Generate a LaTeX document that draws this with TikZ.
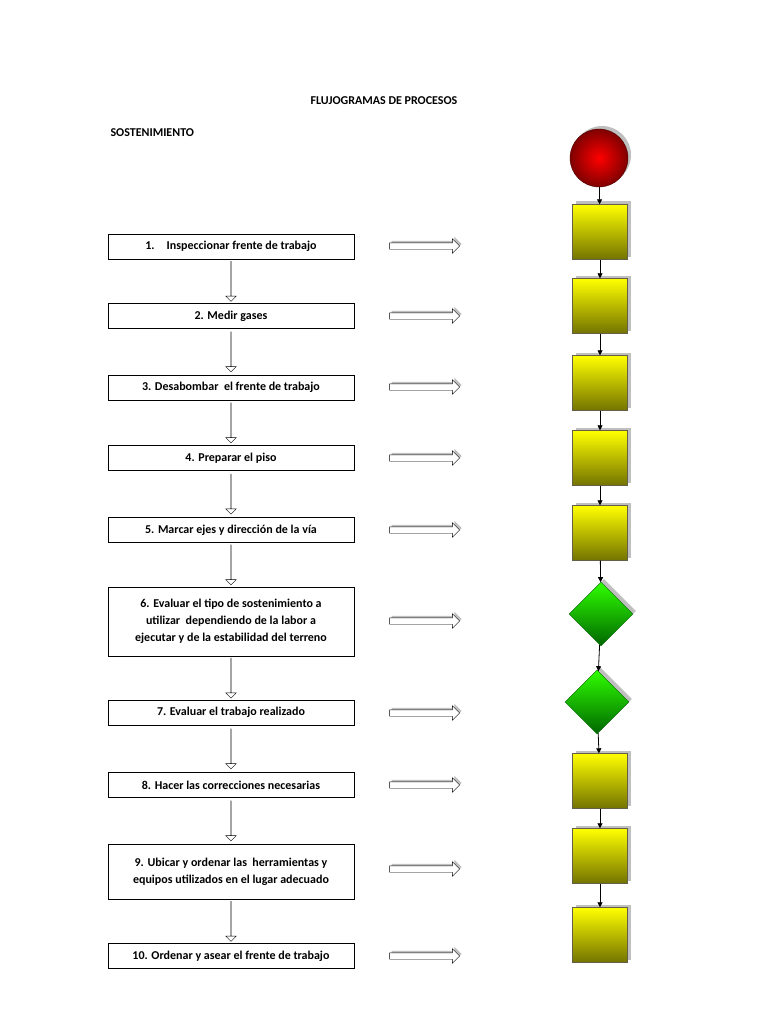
\documentclass[tikz,border=0pt]{standalone}
\usepackage{fontspec}
\setmainfont{Carlito}
\usetikzlibrary{shapes.arrows,shapes.geometric,shadows,arrows.meta,calc}
\begin{document}
\begin{tikzpicture}[x=1pt,y=-1pt,
  stepbox/.style={draw,thick,fill=white,minimum width=246,align=center,font=\fontsize{12}{17}\selectfont\bfseries,inner sep=0},
  darr/.style={single arrow,draw,fill=white,shape border rotate=270,minimum height=40,inner sep=0,inner ysep=7,single arrow head extend=5,text width=0pt},
  rarr/.style={single arrow,draw,fill=white,minimum height=70,inner xsep=0,inner ysep=3,single arrow head extend=4,text width=0pt,drop shadow={shadow xshift=2,shadow yshift=-2,opacity=.5}},
  ysq/.style={rectangle,draw=black!70!yellow,top color=yellow,bottom color=yellow!45!black,minimum size=55,drop shadow={shadow xshift=3,shadow yshift=-3,opacity=.5}},
  gdm/.style={diamond,draw=black!60!green,top color=green!75!lime,bottom color=green!40!black,minimum size=64,inner sep=0,drop shadow={shadow xshift=3,shadow yshift=-3,opacity=.5}},
  con/.style={-{Triangle[length=5,width=5]},thick}]
\useasboundingbox (0,0) rectangle (768,1024);
\node[font=\fontsize{12}{14}\selectfont\bfseries] (title) at (384,101) {FLUJOGRAMAS DE PROCESOS};
\node[font=\fontsize{12}{14}\selectfont\bfseries,anchor=west] (sub) at (107,133) {SOSTENIMIENTO};
\node[stepbox,minimum height=25] (s1) at (231,246.5) {1.\quad Inspeccionar frente de trabajo};
\node[stepbox,minimum height=25] (s2) at (231,316) {2. Medir gases};
\node[stepbox,minimum height=25] (s3) at (231,387.5) {3. Desabombar\ \ el frente de trabajo};
\node[stepbox,minimum height=25] (s4) at (231,458) {4. Preparar el piso};
\node[stepbox,minimum height=25] (s5) at (231,530) {5. Marcar ejes y dirección de la vía};
\node[stepbox,minimum height=69] (s6) at (231,621.5) {6. Evaluar el tipo de sostenimiento a\\utilizar\ \ dependiendo de la labor a\\ejecutar y de la estabilidad del terreno};
\node[stepbox,minimum height=25] (s7) at (231,712.5) {7. Evaluar el trabajo realizado};
\node[stepbox,minimum height=25] (s8) at (231,785) {8. Hacer las correcciones necesarias};
\node[stepbox,minimum height=55] (s9) at (231,871.5) {9. Ubicar y ordenar las\ \ herramientas y\\equipos utilizados en el lugar adecuado};
\node[stepbox,minimum height=25] (s10) at (231,956) {10. Ordenar y asear el frente de trabajo};
\foreach \a/\b in {s1/s2,s2/s3,s3/s4,s4/s5,s5/s6,s6/s7,s7/s8,s8/s9,s9/s10}
  \node[darr] (d\a) at ($(\a.south)!0.5!(\b.north)$) {};
\foreach \i/\y in {1/246,2/316,3/387,4/458,5/530,6/621,7/713,8/785,9/869,10/956}
  \node[rarr] (r\i) at (423,\y) {};
\node[circle,draw=black!70!red,inner color=red,outer color=red!50!black,minimum size=58,drop shadow={shadow xshift=3,shadow yshift=-3,opacity=.5}] (c0) at (599,158) {};
\node[ysq] (q1) at (600,232) {};
\node[ysq] (q2) at (600,306) {};
\node[ysq] (q3) at (600,383) {};
\node[ysq] (q4) at (600,458) {};
\node[ysq] (q5) at (600,533) {};
\node[gdm] (g6) at (601,614) {};
\node[gdm] (g7) at (597,702) {};
\node[ysq] (q8) at (600,781) {};
\node[ysq] (q9) at (600,856) {};
\node[ysq] (q10) at (600,935) {};
\foreach \a/\b in {c0/q1,q1/q2,q2/q3,q3/q4,q4/q5,q5/g6,g6/g7,g7/q8,q8/q9,q9/q10}
  \draw[con] (\a) -- (\b);
\end{tikzpicture}
\end{document}
